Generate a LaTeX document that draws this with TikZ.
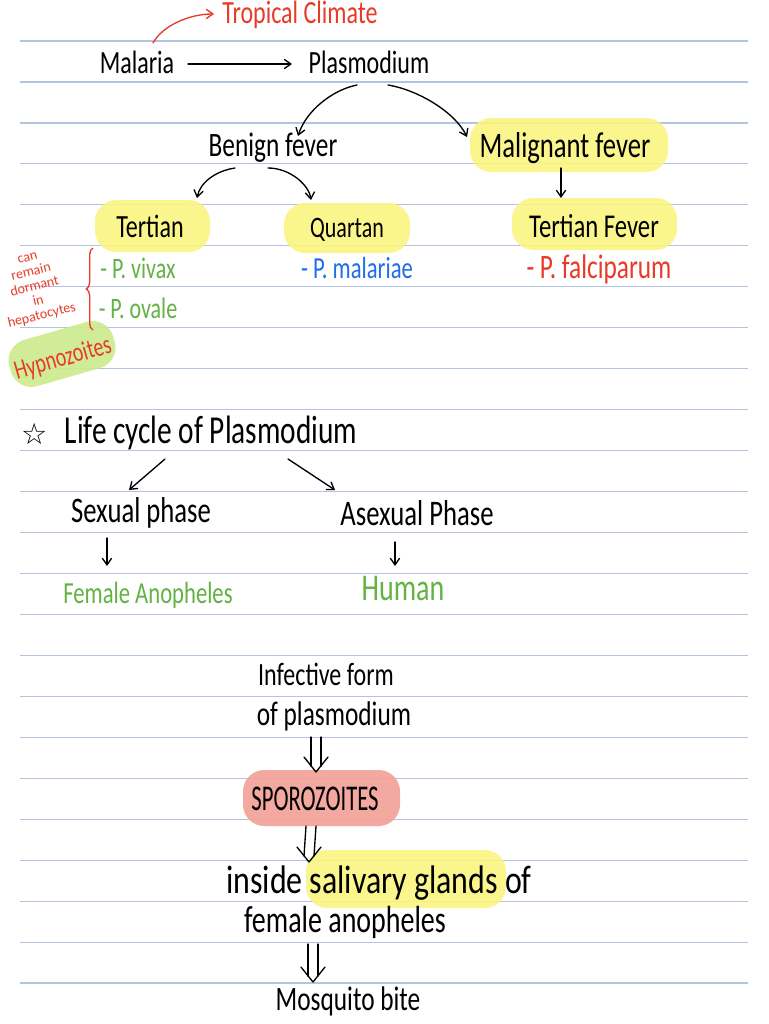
\documentclass[tikz,border=0pt]{standalone}
\usepackage{fontspec}
\setmainfont{Carlito}
\newfontfamily\symfont{DejaVu Sans}
\usetikzlibrary{arrows.meta,calc,decorations.pathreplacing}
\definecolor{rulec}{RGB}{178,196,224}
\definecolor{hlyellow}{RGB}{250,244,128}
\definecolor{hlgreen}{RGB}{204,234,140}
\definecolor{hlsalmon}{RGB}{242,160,150}
\definecolor{pred}{RGB}{232,58,40}
\definecolor{pgreen}{RGB}{98,178,68}
\definecolor{pblue}{RGB}{30,110,230}
\newcommand\hs[1]{\scalebox{1}[1.35]{#1}}
\newcommand\fs[1]{\fontsize{#1}{#1}\selectfont}
\newcommand\dblarrow[2]{%
  \draw[ink] ($(#1)+(-5,0)$) -- ($(#2)+(-5,-6)$);
  \draw[ink] ($(#1)+(5,0)$) -- ($(#2)+(5,-6)$);
  \draw[ink] ($(#2)+(-12,-15)$) -- (#2) -- ($(#2)+(12,-15)$);}
\begin{document}
\begin{tikzpicture}[x=0.75pt,y=-0.75pt,
  txt/.style={anchor=base,inner sep=0pt,text=black},
  ink/.style={line width=1pt,black,line cap=round,line join=round},
  arr/.style={ink,-{Straight Barb[length=5pt,width=7pt]}},
  hl/.style={rounded corners=16pt,opacity=0.9},
  note/.style={inner sep=0pt,text=pred,rotate=14}]
\fill[white] (0,0) rectangle (768,1024);
\useasboundingbox (0,0) rectangle (768,1024);
\foreach \k in {0,...,23} \draw[rulec,line width=0.9pt] (20,{41+40.96*\k}) -- (748,{41+40.96*\k});
% highlights
\fill[hlyellow,hl] (470,118) rectangle (668,172);
\fill[hlyellow,hl] (95,200) rectangle (210,252);
\fill[hlyellow,hl] (284,203) rectangle (410,253);
\fill[hlyellow,hl] (512,198) rectangle (677,250);
\fill[hlsalmon,hl] (243,770) rectangle (400,826);
\fill[hlyellow,hl] (306,850) rectangle (506,908);
\fill[hlgreen,hl,rotate around={16:(62,354)}] (8,330) rectangle (116,378);
% texts
\node[txt,font=\fs{18pt},text=pred] (trop) at (300,24) {\hs{Tropical Climate}};
\node[txt,font=\fs{18pt}] (mal) at (137,74) {\hs{Malaria}};
\node[txt,font=\fs{18pt}] (plas) at (369,74) {\hs{Plasmodium}};
\node[txt,font=\fs{19pt}] (ben) at (273,156) {\hs{Benign fever}};
\node[txt,font=\fs{20pt}] (malig) at (565,157) {\hs{Malignant fever}};
\node[txt,font=\fs{18pt}] (tert) at (150,237) {\hs{Tertian}};
\node[txt,font=\fs{16.5pt}] (quart) at (347,237) {\hs{Quartan}};
\node[txt,font=\fs{18.5pt}] (tf) at (594,237) {\hs{Tertian Fever}};
\node[txt,font=\fs{16.5pt},text=pgreen] (viv) at (138,278) {\hs{- P. vivax}};
\node[txt,font=\fs{16.5pt},text=pgreen] (ova) at (138,318) {\hs{- P. ovale}};
\node[txt,font=\fs{17pt},text=pblue] (mlr) at (357,278) {\hs{- P. malariae}};
\node[txt,font=\fs{19pt},text=pred] (fal) at (599,278) {\hs{- P. falciparum}};
\draw[pred,line width=1pt,decorate,decoration={brace,amplitude=5pt}] (93,330) -- (93,248);
\node[note,align=center,font=\fontsize{10.5pt}{11.2pt}\selectfont] (dorm) at (35,288) {can\\remain\\dormant\\in\\hepatocytes};
\node[note,font=\fs{15pt},rotate=2] (hyp) at (63,359) {\hs{Hypnozoites}};
\node[txt,font=\fs{22pt}] (star) at (35,444) {{\symfont ☆}};
\node[txt,font=\fs{22pt}] (life) at (211,443) {\hs{Life cycle of Plasmodium}};
\node[txt,font=\fs{20pt}] (sex) at (141,522) {\hs{Sexual phase}};
\node[txt,font=\fs{20pt}] (asex) at (417,525) {\hs{Asexual Phase}};
\node[txt,font=\fs{17pt},text=pgreen] (fem) at (148,603) {\hs{Female Anopheles}};
\node[txt,font=\fs{21pt},text=pgreen] (hum) at (403,600) {\hs{Human}};
\node[txt,font=\fs{18pt}] (inf1) at (326,685) {\hs{Infective form}};
\node[txt,font=\fs{19pt}] (inf2) at (334,725) {\hs{of plasmodium}};
\node[txt,font=\fs{17pt}] (spor) at (315,810) {\scalebox{1}[1.6]{SPOROZOITES}};
\node[txt,font=\fs{23pt}] (ins) at (379,893) {\scalebox{1.04}[1.3]{inside salivary glands of}};
\node[txt,font=\fs{21pt}] (fema) at (345,932) {\hs{female anopheles}};
\node[txt,font=\fs{19pt}] (mos) at (348,1010) {\hs{Mosquito bite}};
% connectors
\draw[arr,pred] ($(mal.base)+(16,-31)$) .. controls +(10,-18) and +(-24,0) .. ($(trop.base)+(-86,-10)$);
\draw[arr] ($(mal.base)+(51,-10)$) -- ($(plas.base)+(-77,-10)$);
\draw[arr] ($(plas.base)+(-12,11)$) .. controls +(-25,5) and +(8,-25) .. ($(ben.base)+(25,-20)$);
\draw[arr] ($(plas.base)+(19,11)$) .. controls +(30,5) and +(-12,-25) .. ($(malig.base)+(-98,-20)$);
\draw[arr] ($(ben.base)+(-38,12)$) .. controls +(-20,3) and +(3,-15) .. ($(tert.base)+(47,-39)$);
\draw[arr] ($(ben.base)+(-5,12)$) .. controls +(22,0) and +(-2,-15) .. ($(quart.base)+(-36,-37)$);
\draw[arr] ($(malig.base)+(-4,11)$) -- ($(tf.base)+(-33,-39)$);
\draw[arr] ($(life.base)+(-46,16)$) -- ($(sex.base)+(-12,-32)$);
\draw[arr] ($(life.base)+(77,16)$) -- ($(asex.base)+(-82,-35)$);
\draw[arr] ($(sex.base)+(-34,16)$) -- ($(fem.base)+(-41,-37)$);
\draw[arr] ($(asex.base)+(-22,17)$) -- ($(hum.base)+(-8,-34)$);
\coordinate (d1t) at ($(inf2.base)+(-18,12)$);
\coordinate (d1b) at ($(spor.base)+(1,-38)$);
\coordinate (d2t) at ($(spor.base)+(-4,16)$);
\coordinate (d2b) at ($(ins.base)+(-70,-31)$);
\coordinate (d3t) at ($(fema.base)+(-32,12)$);
\coordinate (d3b) at ($(mos.base)+(-35,-28)$);
\dblarrow{d1t}{d1b}
\dblarrow{d2t}{d2b}
\dblarrow{d3t}{d3b}
\end{tikzpicture}
\end{document}
